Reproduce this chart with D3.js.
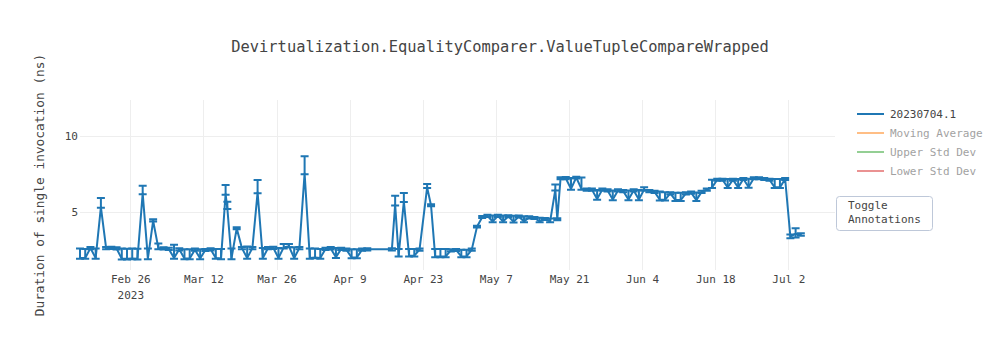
<!DOCTYPE html>
<html>
<head>
<meta charset="utf-8">
<script src="https://cdn.jsdelivr.net/npm/d3@7"></script>
<style>
  body { margin: 0; background: #fff; }
  svg { display: block; }
  text { font-family: "DejaVu Sans Mono", monospace; }
</style>
</head>
<body>
<svg id="chart" width="1000" height="350"></svg>
<script>
// Benchmark run timestamps (UTC)
const dates = [
  "2023-02-16T09:00Z","2023-02-17T09:00Z","2023-02-18T09:00Z","2023-02-19T09:00Z","2023-02-20T09:00Z",
  "2023-02-21T09:00Z","2023-02-22T09:00Z","2023-02-23T09:00Z","2023-02-24T09:00Z","2023-02-25T09:00Z",
  "2023-02-26T09:00Z","2023-02-27T09:00Z","2023-02-28T09:00Z","2023-03-01T09:00Z","2023-03-02T09:00Z",
  "2023-03-03T09:00Z","2023-03-04T09:00Z","2023-03-05T09:00Z","2023-03-06T09:00Z","2023-03-07T09:00Z",
  "2023-03-08T09:00Z","2023-03-09T09:00Z","2023-03-10T09:00Z","2023-03-11T09:00Z","2023-03-12T09:00Z",
  "2023-03-13T09:00Z","2023-03-14T09:00Z","2023-03-15T09:00Z","2023-03-16T06:00Z","2023-03-16T14:00Z",
  "2023-03-17T09:00Z","2023-03-18T09:00Z","2023-03-19T09:00Z","2023-03-20T09:00Z","2023-03-21T09:00Z",
  "2023-03-22T09:00Z","2023-03-23T09:00Z","2023-03-24T09:00Z","2023-03-25T09:00Z","2023-03-26T09:00Z",
  "2023-03-27T09:00Z","2023-03-28T09:00Z","2023-03-29T09:00Z","2023-03-30T09:00Z","2023-03-31T09:00Z",
  "2023-04-01T09:00Z","2023-04-02T09:00Z","2023-04-03T09:00Z","2023-04-04T09:00Z","2023-04-05T09:00Z",
  "2023-04-06T09:00Z","2023-04-07T09:00Z","2023-04-08T09:00Z","2023-04-09T09:00Z","2023-04-10T09:00Z",
  "2023-04-11T09:00Z","2023-04-12T09:00Z","2023-04-17T02:00Z","2023-04-17T17:00Z","2023-04-18T09:00Z",
  "2023-04-19T09:00Z","2023-04-20T09:00Z","2023-04-21T09:00Z","2023-04-22T09:00Z","2023-04-23T20:00Z",
  "2023-04-24T14:00Z","2023-04-25T09:00Z","2023-04-26T09:00Z","2023-04-27T09:00Z","2023-04-28T09:00Z",
  "2023-04-29T09:00Z","2023-04-30T09:00Z","2023-05-01T09:00Z","2023-05-02T09:00Z","2023-05-03T09:00Z",
  "2023-05-04T09:00Z","2023-05-05T09:00Z","2023-05-06T09:00Z","2023-05-07T09:00Z","2023-05-08T09:00Z",
  "2023-05-09T09:00Z","2023-05-10T09:00Z","2023-05-11T09:00Z","2023-05-12T09:00Z","2023-05-13T09:00Z",
  "2023-05-14T09:00Z","2023-05-15T09:00Z","2023-05-16T09:00Z","2023-05-17T09:00Z","2023-05-18T09:00Z",
  "2023-05-18T18:00Z","2023-05-19T09:00Z","2023-05-20T09:00Z","2023-05-21T09:00Z","2023-05-22T09:00Z",
  "2023-05-23T09:00Z","2023-05-24T09:00Z","2023-05-25T09:00Z","2023-05-26T09:00Z","2023-05-27T09:00Z",
  "2023-05-28T09:00Z","2023-05-29T09:00Z","2023-05-30T09:00Z","2023-05-31T09:00Z","2023-06-01T09:00Z",
  "2023-06-02T09:00Z","2023-06-03T09:00Z","2023-06-04T09:00Z","2023-06-05T09:00Z","2023-06-06T09:00Z",
  "2023-06-07T09:00Z","2023-06-08T09:00Z","2023-06-09T09:00Z","2023-06-10T09:00Z","2023-06-11T09:00Z",
  "2023-06-12T09:00Z","2023-06-13T09:00Z","2023-06-14T09:00Z","2023-06-15T09:00Z","2023-06-16T09:00Z",
  "2023-06-17T09:00Z","2023-06-18T09:00Z","2023-06-19T09:00Z","2023-06-20T09:00Z","2023-06-21T09:00Z",
  "2023-06-22T09:00Z","2023-06-23T09:00Z","2023-06-24T09:00Z","2023-06-25T09:00Z","2023-06-26T09:00Z",
  "2023-06-27T09:00Z","2023-06-28T09:00Z","2023-06-29T09:00Z","2023-06-30T09:00Z","2023-07-01T09:00Z",
  "2023-07-02T09:00Z","2023-07-03T09:00Z","2023-07-04T09:00Z"
];

// Duration of a single invocation (ns)
const durations = [
  1.95, 1.95, 2.60, 1.95, 5.30,  2.60, 2.62, 2.58, 1.90, 1.90,
  1.92, 1.90, 6.20, 1.92, 4.40,  2.60, 2.58, 2.55, 1.95, 2.52,
  1.92, 1.92, 2.50, 1.92, 2.48,  2.52, 1.95, 1.92, 6.16, 5.22,
  1.92, 3.90, 2.60, 1.95, 2.60,  6.27, 1.95, 2.60, 2.62, 1.95,
  2.65, 2.72, 1.95, 2.60, 7.52,  1.95, 1.98, 1.95, 2.55, 2.58,
  2.00, 2.55, 2.50, 1.98, 1.98,  2.50, 2.52, 2.52, 5.46, 2.10,
  5.68, 2.10, 2.10, 2.50, 6.60,  5.40, 2.05, 2.05, 2.05, 2.45,
  2.48, 2.05, 2.05, 2.50, 4.00,  4.63, 4.72, 4.35, 4.72, 4.35,
  4.70, 4.33, 4.68, 4.35, 4.62,  4.58, 4.35, 4.52, 4.35, 6.45,
  4.50, 7.19, 7.20, 6.50, 7.25,  6.50, 6.45, 6.45, 5.83, 6.45,
  6.40, 5.80, 6.40, 6.35, 5.80,  6.40, 5.80, 6.45, 6.35, 6.30,
  5.78, 5.78, 6.20, 5.76, 5.76,  6.20, 6.25, 5.76, 6.30, 6.45,
  6.60, 7.10, 7.10, 6.60, 7.10,  6.60, 7.15, 6.62, 7.20, 7.20,
  7.15, 7.10, 6.60, 6.60, 7.15,  3.35, 3.55, 3.50
];

// Upper error bar length (ns)
const errorUp = [
  0.62, 0.60, 0.08, 0.62, 0.60,  0.07, 0.07, 0.07, 0.68, 0.66,
  0.65, 0.66, 0.51, 0.65, 0.10,  0.30, 0.07, 0.07, 0.88, 0.07,
  0.60, 0.60, 0.07, 0.60, 0.07,  0.07, 0.60, 0.62, 0.60, 0.43,
  0.66, 0.07, 0.07, 0.75, 0.07,  0.82, 0.65, 0.07, 0.07, 0.65,
  0.22, 0.15, 0.70, 0.07, 1.12,  0.62, 0.60, 0.60, 0.07, 0.10,
  0.60, 0.07, 0.07, 0.55, 0.55,  0.07, 0.07, 0.07, 0.59, 0.45,
  0.55, 0.45, 0.45, 0.07, 0.22,  0.08, 0.50, 0.50, 0.50, 0.07,
  0.07, 0.45, 0.45, 0.07, 0.08,  0.08, 0.07, 0.40, 0.07, 0.40,
  0.07, 0.40, 0.07, 0.35, 0.07,  0.07, 0.25, 0.07, 0.20, 0.33,
  0.07, 0.07, 0.08, 0.72, 0.05,  0.75, 0.07, 0.07, 0.60, 0.07,
  0.07, 0.60, 0.07, 0.07, 0.60,  0.07, 0.62, 0.15, 0.07, 0.07,
  0.55, 0.50, 0.07, 0.48, 0.48,  0.07, 0.07, 0.50, 0.07, 0.07,
  0.50, 0.07, 0.07, 0.55, 0.07,  0.55, 0.07, 0.55, 0.07, 0.07,
  0.07, 0.07, 0.55, 0.55, 0.07,  0.15, 0.35, 0.08
];

// Lower error bar length (ns)
const errorDown = [
  0.05, 0.05, 0.08, 0.05, 0.05,  0.07, 0.07, 0.07, 0.05, 0.05,
  0.05, 0.05, 0.05, 0.05, 0.05,  0.07, 0.07, 0.07, 0.05, 0.07,
  0.05, 0.05, 0.07, 0.05, 0.07,  0.07, 0.05, 0.05, 0.05, 0.05,
  0.05, 0.05, 0.07, 0.05, 0.07,  0.05, 0.05, 0.07, 0.07, 0.05,
  0.07, 0.07, 0.05, 0.07, 0.05,  0.05, 0.05, 0.05, 0.07, 0.07,
  0.05, 0.07, 0.07, 0.05, 0.05,  0.07, 0.07, 0.07, 0.05, 0.05,
  0.05, 0.05, 0.05, 0.07, 0.05,  0.05, 0.05, 0.05, 0.05, 0.07,
  0.07, 0.05, 0.05, 0.07, 0.05,  0.05, 0.07, 0.05, 0.07, 0.05,
  0.07, 0.05, 0.07, 0.05, 0.07,  0.07, 0.05, 0.07, 0.05, 0.05,
  0.07, 0.05, 0.07, 0.05, 0.07,  0.05, 0.07, 0.07, 0.05, 0.07,
  0.07, 0.05, 0.07, 0.07, 0.05,  0.07, 0.05, 0.07, 0.07, 0.07,
  0.05, 0.05, 0.07, 0.05, 0.05,  0.07, 0.07, 0.05, 0.07, 0.07,
  0.05, 0.07, 0.07, 0.05, 0.07,  0.05, 0.07, 0.05, 0.07, 0.07,
  0.07, 0.07, 0.05, 0.05, 0.07,  0.10, 0.25, 0.08
];

const xTickDates = ["2023-02-26","2023-03-12","2023-03-26","2023-04-09","2023-04-23",
                    "2023-05-07","2023-05-21","2023-06-04","2023-06-18","2023-07-02"];
const xTickLabels = ["Feb 26","Mar 12","Mar 26","Apr 9","Apr 23",
                     "May 7","May 21","Jun 4","Jun 18","Jul 2"];
const yearLabel = "2023";
const yTicks = [5, 10];
const xRange = ["2023-02-16T09:00Z", "2023-07-10T22:00Z"];
const yRange = [1.16, 12.35];

const legendNames = ["20230704.1", "Moving Average", "Upper Std Dev", "Lower Std Dev"];
const legendColors = ["#1f77b4", "#ff7f0e", "#2ca02c", "#d62728"];
const legendVisible = [true, false, false, false];

const titleText = "Devirtualization.EqualityComparer.ValueTupleCompareWrapped";
const yTitleText = "Duration of single invocation (ns)";
const buttonLines = ["Toggle", "Annotations"];

// ---- layout ----
const plot = { left: 80, right: 835, top: 100, bottom: 270 };
const lineColor = "#1f77b4";
const textColor = "#444";

const svg = d3.select("#chart");

const points = dates.map((d, i) => ({
  date: d3.isoParse(d.replace("Z", ":00Z")),
  v: durations[i],
  up: errorUp[i],
  down: errorDown[i]
}));

const x = d3.scaleUtc()
  .domain(xRange.map(s => d3.isoParse(s.replace("Z", ":00Z"))))
  .range([plot.left, plot.right]);
const y = d3.scaleLinear().domain(yRange).range([plot.bottom, plot.top]);

const tickDates = xTickDates.map(s => d3.isoParse(s + "T00:00:00Z"));

// Grid
const grid = svg.append("g").attr("stroke", "#eee").attr("stroke-width", 1);
grid.selectAll("line.v").data(tickDates).join("line")
  .attr("x1", d => Math.round(x(d)) + 0.5).attr("x2", d => Math.round(x(d)) + 0.5)
  .attr("y1", plot.top).attr("y2", plot.bottom);
grid.selectAll("line.h").data(yTicks).join("line")
  .attr("x1", plot.left).attr("x2", plot.right)
  .attr("y1", d => Math.round(y(d)) + 0.5).attr("y2", d => Math.round(y(d)) + 0.5);

// X axis
const xAxis = svg.append("g")
  .attr("transform", `translate(0,${plot.bottom})`)
  .call(d3.axisBottom(x).tickValues(tickDates)
    .tickFormat((d, i) => xTickLabels[i]).tickSize(0).tickPadding(5));
xAxis.select(".domain").remove();
xAxis.selectAll("text")
  .attr("fill", textColor).style("font-size", "11px")
  .style("font-family", "'DejaVu Sans Mono', monospace");
xAxis.selectAll(".tick").filter((d, i) => i === 0).append("text")
  .attr("y", 21).attr("dy", "0.71em")
  .attr("fill", textColor).attr("text-anchor", "middle")
  .style("font-size", "11px").style("font-family", "'DejaVu Sans Mono', monospace")
  .text(yearLabel);

// Y axis
const yAxis = svg.append("g")
  .attr("transform", `translate(${plot.left},0)`)
  .call(d3.axisLeft(y).tickValues(yTicks).tickSize(0).tickPadding(2));
yAxis.select(".domain").remove();
yAxis.selectAll("text")
  .attr("fill", textColor).style("font-size", "11px")
  .style("font-family", "'DejaVu Sans Mono', monospace");

// Error bars
const capHalf = 4;
const bars = svg.append("g")
  .attr("stroke", lineColor).attr("stroke-width", 2).attr("fill", "none");
bars.selectAll("path").data(points).join("path")
  .attr("d", p => {
    const px = x(p.date);
    const yHi = y(p.v + p.up), yLo = y(p.v - p.down);
    return `M${px},${yLo}V${yHi}` +
           `M${px - capHalf},${yHi}H${px + capHalf}` +
           `M${px - capHalf},${yLo}H${px + capHalf}`;
  });

// Series line
svg.append("path")
  .datum(points)
  .attr("fill", "none")
  .attr("stroke", lineColor)
  .attr("stroke-width", 2)
  .attr("stroke-linejoin", "round")
  .attr("d", d3.line().x(p => x(p.date)).y(p => y(p.v)));

// Title
svg.append("text")
  .attr("x", 500).attr("y", 51.5)
  .attr("text-anchor", "middle")
  .attr("fill", textColor)
  .style("font-size", "15.4px")
  .text(titleText);

// Y axis title
svg.append("text")
  .attr("transform", `translate(44,${(plot.top + plot.bottom) / 2}) rotate(-90)`)
  .attr("text-anchor", "middle")
  .attr("fill", textColor)
  .style("font-size", "12.83px")
  .text(yTitleText);

// Legend
const legend = svg.append("g");
const legendItems = legend.selectAll("g").data(legendNames).join("g")
  .attr("transform", (d, i) => `translate(857,${114 + i * 19})`)
  .attr("opacity", (d, i) => legendVisible[i] ? 1 : 0.5);
legendItems.append("line")
  .attr("x1", 0).attr("x2", 27).attr("y1", 0).attr("y2", 0)
  .attr("stroke", (d, i) => legendColors[i]).attr("stroke-width", 2);
legendItems.append("text")
  .attr("x", 33).attr("y", 4.3)
  .attr("fill", textColor)
  .style("font-size", "11px")
  .text(d => d);

// Annotation toggle button
const btn = svg.append("g");
btn.append("rect")
  .attr("x", 836.5).attr("y", 196.5).attr("width", 96).attr("height", 34)
  .attr("rx", 3).attr("fill", "#fff").attr("stroke", "#bec8d9").attr("stroke-width", 1);
btn.selectAll("text").data(buttonLines).join("text")
  .attr("x", 848).attr("y", (d, i) => 209 + i * 14.4)
  .attr("fill", textColor)
  .style("font-size", "11px")
  .text(d => d);
</script>
</body>
</html>
